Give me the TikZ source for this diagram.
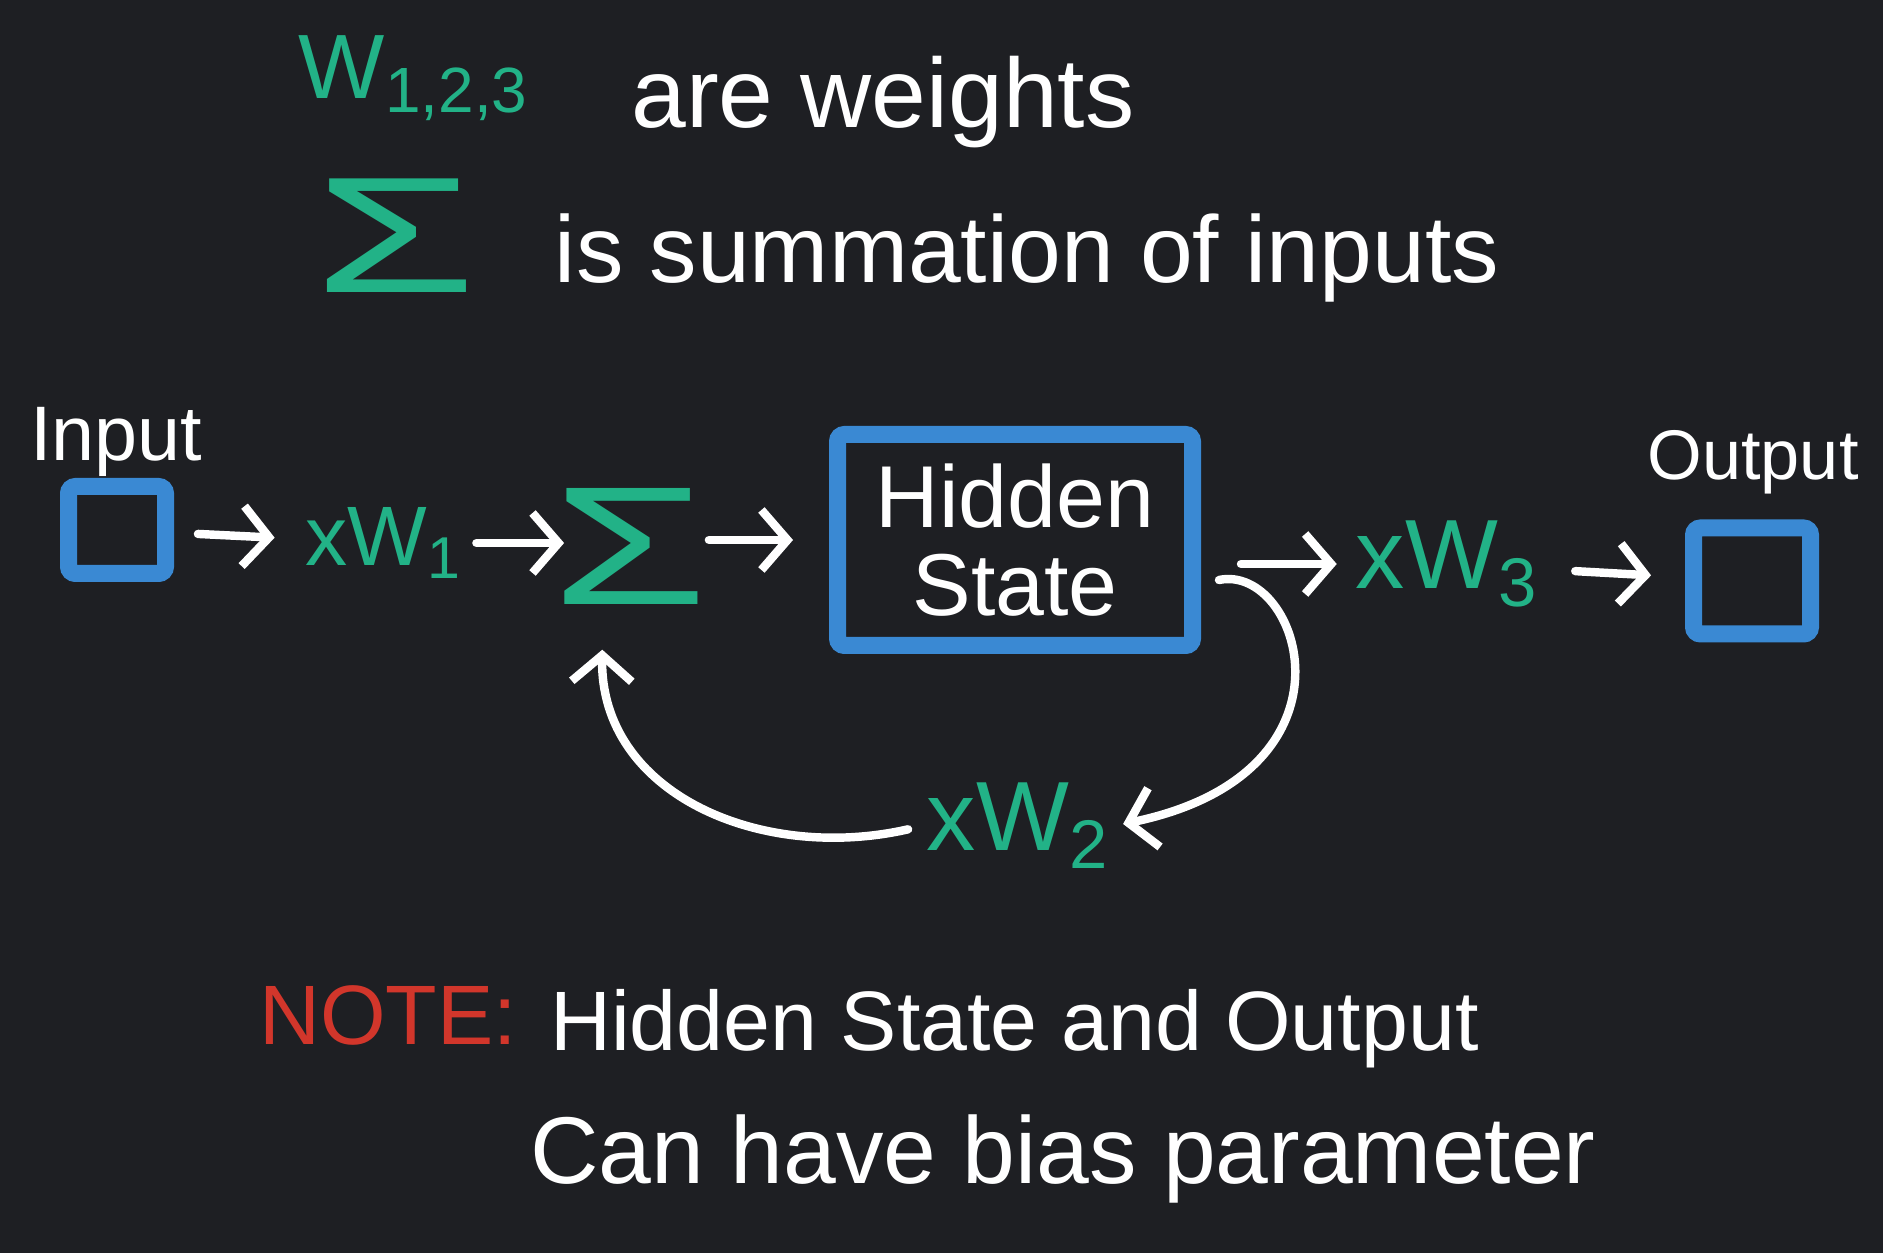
\documentclass[tikz,border=0pt]{standalone}
\usepackage{fontspec}
\setmainfont{Liberation Sans}
\usetikzlibrary{arrows.meta}
\definecolor{board}{HTML}{1E1F23}
\definecolor{ink}{HTML}{22B287}
\definecolor{boxblue}{HTML}{3A89D3}
\definecolor{notered}{HTML}{D2362B}
\begin{document}
\begin{tikzpicture}[
  hand/.style={line width=2.4pt, white, line cap=round, -{Straight Barb[length=2.6mm, width=6mm, line width=2.4pt]}},
  chalk/.style={text=white, inner sep=1pt},
  weight/.style={text=ink, inner sep=1pt},
  cell/.style={draw=boxblue, line width=0.17cm, rounded corners=2pt}
 ]
  \fill[board] (0, 0) rectangle (18.83, 12.53);
  % legend
  \node[weight, font=\fontsize{26}{30}\selectfont] (wlist) at (4.14, 11.75) {W\textsubscript{1,2,3}};
  \node[chalk, font=\fontsize{28}{32}\selectfont] (wtext) at (8.83, 11.51) {are weights};
  \node[weight, font=\fontsize{47}{50}\selectfont, inner sep=0pt] (sumkey) at (3.95, 10.17) {\scalebox{1.6}[1]{Σ}};
  \node[chalk, font=\fontsize{27}{30}\selectfont] (sumtext) at (10.27, 9.95) {is summation of inputs};
  % network
  \node[cell, minimum width=0.97cm, minimum height=0.87cm] (input) at (1.17, 7.23) {};
  \node[chalk, font=\fontsize{22}{24}\selectfont] (inlabel) at (1.16, 8.11) {Input};
  \node[weight, font=\fontsize{24}{26}\selectfont] (xw1) at (3.84, 7.10) {xW\textsubscript{1}};
  \node[weight, font=\fontsize{48}{50}\selectfont, inner sep=0pt] (sum) at (6.30, 7.07) {\scalebox{1.5}[1]{Σ}};
  \node[cell, chalk, minimum width=3.55cm, minimum height=2.11cm, align=center, font=\fontsize{25}{25}\selectfont] (hidden) at (10.15, 7.13) {Hidden\\State};
  \node[weight, font=\fontsize{28}{30}\selectfont] (xw3) at (14.47, 6.89) {xW\textsubscript{3}};
  \node[cell, minimum width=1.17cm, minimum height=1.06cm] (output) at (17.52, 6.72) {};
  \node[chalk, font=\fontsize{20}{22}\selectfont] (outlabel) at (17.53, 7.91) {Output};
  \node[weight, font=\fontsize{28}{30}\selectfont] (xw2) at (10.18, 4.27) {xW\textsubscript{2}};
  \draw[hand, shorten <=2.4mm, shorten >=2.7mm] (input) -- (xw1);
  \draw[hand, shorten <=1mm, shorten >=-1.3mm] (xw1.east) -- (sum.west |- xw1.east);
  \draw[hand, shorten <=0mm, shorten >=3.6mm] (sum.east |- hidden.west) -- (hidden.west);
  \draw[hand, shorten <=4mm, shorten >=1.5mm] (hidden.east |- xw3.west) -- (xw3.west);
  \draw[hand, shorten <=3.3mm, shorten >=3.4mm] (xw3) -- (output);
  % feedback loop
  \draw[hand, shorten >=1mm] ([xshift=1.8mm, yshift=-4mm]hidden.east) .. controls (13.0, 6.9) and (13.7, 4.8) .. (xw2.east);
  \draw[hand, shorten <=1.5mm, shorten >=4.5mm] (xw2.west) .. controls (7.6, 3.9) and (6.0, 4.6) .. ([xshift=-2.7mm]sum.south);
  % note
  \node[text=notered, inner sep=1pt, anchor=west, font=\fontsize{24}{26}\selectfont] (note) at (2.55, 2.38) {NOTE:};
  \node[chalk, anchor=west, font=\fontsize{24}{26}\selectfont] (noteone) at (5.46, 2.24) {Hidden State and Output};
  \node[chalk, anchor=west, font=\fontsize{27}{30}\selectfont] (notetwo) at (5.26, 0.94) {Can have bias parameter};
\end{tikzpicture}
\end{document}
